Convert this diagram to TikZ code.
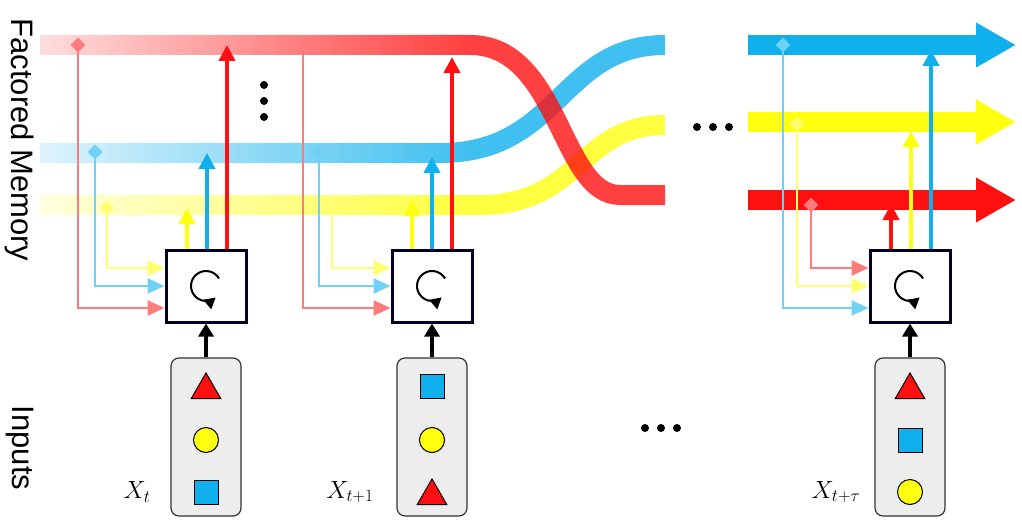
\documentclass[tikz,border=0pt]{standalone}
\usepackage{fontspec}
\setmainfont{Liberation Sans}
\usetikzlibrary{arrows.meta,shapes.geometric,fadings}
\definecolor{R}{HTML}{FF1010}
\definecolor{B}{HTML}{10B0EC}
\definecolor{Y}{HTML}{FFFF10}
\definecolor{Rl}{HTML}{FF7B7B}
\definecolor{Bl}{HTML}{70D0F5}
\definecolor{Yl}{HTML}{FFFF70}
\begin{document}
\begin{tikzpicture}[x=1pt,y=-1pt,
 band/.style={line width=20pt,opacity=0.8},
 big/.style={line width=20pt,-{Triangle[width=42pt,length=40pt]}},
 outa/.style={line width=4pt,-{Triangle[width=16pt,length=16pt]}},
 inl/.style={line width=2.5pt,-{Triangle[width=15pt,length=17pt]}},
 dia/.style={diamond,inner sep=0pt,minimum size=15pt},
 cell/.style={draw=black!85!blue,line width=3pt,fill=white,minimum width=80pt,minimum height=72pt,inner sep=0pt},
 inbox/.style={draw=black!80,line width=1.2pt,fill=black!7,rounded corners=8pt,minimum width=70pt,minimum height=158pt},
 tri/.style={regular polygon,regular polygon sides=3,fill=R,draw=black,line width=1pt,inner sep=0pt,minimum size=34pt},
 sq/.style={fill=B,draw=black,line width=1pt,minimum size=24pt,inner sep=0pt},
 circ/.style={circle,fill=Y,draw=black,line width=1pt,minimum size=25pt,inner sep=0pt},
 lab/.style={font=\fontsize{24}{28}\selectfont},
 bdot/.style={circle,fill=black,inner sep=0pt,minimum size=8pt}]
\useasboundingbox (0,0) rectangle (1022,527);
% bands
\draw[band,Y] (40,205) -- (480,205) .. controls (580,205) and (580,125) .. (665,125);
\draw[band,B] (40,153) -- (440,153) .. controls (560,153) and (560,45) .. (665,45);
\draw[band,R] (40,45) -- (470,45) .. controls (560,45) and (560,195) .. (620,195) -- (665,195);
\fill[white,path fading=east,opacity=0.85] (30,25) rectangle (470,225);
% right arrows
\draw[big,B] (748,45) -- (1016,45);
\draw[big,Y] (748,122) -- (1016,122);
\draw[big,R] (748,200) -- (1016,200);
% cells
\node[cell] (c1) at (206,286) {};
\node[cell] (c2) at (432,286) {};
\node[cell] (c3) at (910,286) {};
\foreach \c in {c1,c2,c3}{
 \draw[line width=2pt,-{Triangle[width=12pt,length=11pt]}] (\c) ++(-30:15) arc[start angle=-30,end angle=-310,radius=15];}
% inputs to cell 1
\node[dia,fill=Rl] (r1) at (78,45) {};
\node[dia,fill=Bl] (b1) at (95,152) {};
\node[dia,fill=Yl] (y1) at (107,208) {};
\draw[inl,Yl] (y1.center) |- (c1.west |- 0,268);
\draw[inl,Bl] (b1.center) |- (c1.west |- 0,286);
\draw[inl,Rl] (r1.center) |- (c1.west |- 0,308);
\coordinate (o1y) at (187,208); \coordinate (o1b) at (207,153); \coordinate (o1r) at (227,45);
\draw[outa,Y] (c1.north -| o1y) -- (o1y);
\draw[outa,B] (c1.north -| o1b) -- (o1b);
\draw[outa,R] (c1.north -| o1r) -- (o1r);
% cell 2
\node[dia,fill=Rl] (r2) at (303,45) {};
\node[dia,fill=Bl] (b2) at (319,152) {};
\node[dia,fill=Yl] (y2) at (332,208) {};
\draw[inl,Yl] (y2.center) |- (c2.west |- 0,268);
\draw[inl,Bl] (b2.center) |- (c2.west |- 0,286);
\draw[inl,Rl] (r2.center) |- (c2.west |- 0,308);
\coordinate (o2y) at (412,200); \coordinate (o2b) at (432,157); \coordinate (o2r) at (452,57);
\draw[outa,Y] (c2.north -| o2y) -- (o2y);
\draw[outa,B] (c2.north -| o2b) -- (o2b);
\draw[outa,R] (c2.north -| o2r) -- (o2r);
% cell 3
\node[dia,fill=Bl] (b3) at (783,45) {};
\node[dia,fill=Yl] (y3) at (797,124) {};
\node[dia,fill=Rl] (r3) at (811,205) {};
\draw[inl,Rl] (r3.center) |- (c3.west |- 0,268);
\draw[inl,Yl] (y3.center) |- (c3.west |- 0,286);
\draw[inl,Bl] (b3.center) |- (c3.west |- 0,308);
\coordinate (o3r) at (891,204); \coordinate (o3y) at (911,131); \coordinate (o3b) at (931,50);
\draw[outa,R] (c3.north -| o3r) -- (o3r);
\draw[outa,Y] (c3.north -| o3y) -- (o3y);
\draw[outa,B] (c3.north -| o3b) -- (o3b);
% input boxes
\node[inbox] (i1) at (206,437) {};
\node[inbox] (i2) at (432,437) {};
\node[inbox] (i3) at (910,437) {};
\foreach \i/\c in {i1/c1,i2/c2,i3/c3}
 \draw[line width=3.5pt,-{Triangle[width=15pt,length=13pt]}] (\i.north) -- (\c.south);
\node[tri] (s11) at (206,390) {}; \node[circ] (s12) at (206,440) {}; \node[sq] (s13) at (206,492) {};
\node[sq] (s21) at (432,386) {}; \node[circ] (s22) at (432,440) {}; \node[tri] (s23) at (432,496) {};
\node[tri] (s31) at (910,390) {}; \node[sq] (s32) at (910,440) {}; \node[circ] (s33) at (910,492) {};
\node[lab] (x1) at (137,492) {$X_t$};
\node[lab] (x2) at (350,492) {$X_{t+1}$};
\node[lab] (x3) at (836,492) {$X_{t+\tau}$};
% dots
\foreach \k [count=\n] in {85,101,117} \node[bdot] (v\n) at (264,\k) {};
\foreach \k [count=\n] in {697,713,729} \node[bdot] (h\n) at (\k,127) {};
\foreach \k [count=\n] in {645,661,677} \node[bdot] (g\n) at (\k,428) {};
% titles
\node[rotate=-90,font=\fontsize{31}{36}\selectfont] (fm) at (20,140) {Factored Memory};
\node[rotate=-90,font=\fontsize{31}{36}\selectfont] (in) at (20,448) {Inputs};
\end{tikzpicture}
\end{document}
